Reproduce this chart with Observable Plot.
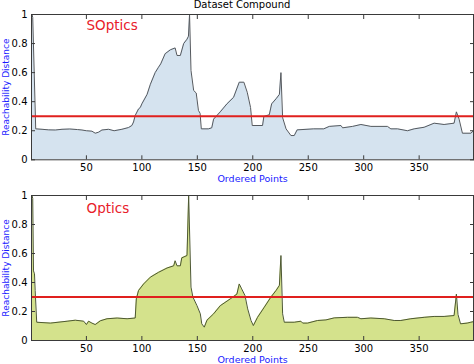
<!DOCTYPE html>
<html><head><meta charset="utf-8">
<script src="https://cdn.jsdelivr.net/npm/d3@7"></script>
<script src="https://cdn.jsdelivr.net/npm/@observablehq/plot@0.6"></script>
<style>
body{margin:0;background:#fff;font-family:"DejaVu Sans",sans-serif;}
#wrap{position:relative;width:474px;height:364px;overflow:hidden;background:#fff;}
#title{position:absolute;left:242px;top:-1px;transform:translateX(-50%);font-size:10px;line-height:12px;white-space:nowrap;color:#000;z-index:5;}
.panel{position:absolute;left:0;}
</style></head>
<body>
<div id="wrap">
  <div id="title">Dataset Compound</div>
  <div id="p1" class="panel" style="top:0px;z-index:2"></div>
  <div id="p2" class="panel" style="top:181px;z-index:1"></div>
</div>
<script>
const chartTitle = "Dataset Compound";
const xLabel = "Ordered Points";
const yLabel = "Reachability Distance";
const threshold = 0.3;
const xTicks = [50, 100, 150, 200, 250, 300, 350];
const yTicks = [0, 0.2, 0.4, 0.6, 0.8, 1];

const soName = "SOptics";
const soX = [1, 1.6, 4.3, 10, 16, 22, 28, 35, 42, 46, 50, 55, 58, 61, 64, 70, 75, 82, 88, 91, 92.5, 94, 97, 98.6, 100, 104.7, 107.7, 112, 115, 117, 121, 125.7, 130, 131.7, 134.7, 137.7, 140.7, 142, 143, 144.3, 146.7, 149, 151, 152.5, 153.6, 160, 163, 164.7, 170.7, 176.7, 182.7, 187.8, 192, 195, 198, 199.5, 208.8, 210, 214.9, 217, 221, 224, 225.4, 226.9, 230, 234.4, 237.4, 240, 255, 264, 269, 279.5, 281, 290, 297.5, 306.5, 321.4, 324.5, 330.5, 339.5, 345.5, 354.5, 363.5, 372.5, 381.5, 383.6, 386, 389, 396.6, 399];
const soY = [1.0, 0.98, 0.213, 0.21, 0.206, 0.205, 0.21, 0.212, 0.208, 0.205, 0.2, 0.197, 0.183, 0.19, 0.205, 0.21, 0.2, 0.21, 0.222, 0.236, 0.26, 0.305, 0.35, 0.36, 0.385, 0.45, 0.52, 0.6, 0.637, 0.66, 0.73, 0.757, 0.77, 0.718, 0.718, 0.8, 0.83, 0.85, 1.0, 0.615, 0.477, 0.46, 0.34, 0.32, 0.213, 0.213, 0.22, 0.28, 0.33, 0.385, 0.43, 0.534, 0.534, 0.465, 0.36, 0.236, 0.236, 0.298, 0.31, 0.385, 0.42, 0.45, 0.6, 0.29, 0.213, 0.167, 0.167, 0.206, 0.213, 0.213, 0.23, 0.236, 0.22, 0.23, 0.243, 0.23, 0.23, 0.213, 0.213, 0.2, 0.213, 0.224, 0.252, 0.243, 0.252, 0.33, 0.28, 0.183, 0.183, 0.2];

const opName = "Optics";
const opX = [1, 1.6, 2.3, 3.2, 3.8, 5.2, 17.6, 32.6, 40, 47.6, 50, 52, 55, 58, 62.6, 68.6, 77.7, 86.7, 94, 95, 97, 101.6, 107.7, 115, 122.7, 128.7, 130, 131.7, 134.7, 136, 140.7, 142.2, 144.3, 146, 149.7, 152.7, 154, 156.3, 158.7, 164.7, 170.7, 179.7, 185.7, 187.8, 190, 193, 195.4, 198.4, 200.5, 204.3, 210.4, 216.4, 221, 224, 225.4, 226.9, 228.4, 237.4, 243.4, 245, 249.4, 258.4, 266, 273.4, 285.4, 294.4, 297.5, 306.5, 318.5, 327.5, 333.5, 342.5, 354.5, 363.5, 372.5, 381.5, 383.6, 385, 387.3, 393.3, 396.6, 399];
const opY = [1.0, 0.98, 0.48, 0.46, 0.345, 0.126, 0.12, 0.133, 0.14, 0.133, 0.11, 0.133, 0.12, 0.11, 0.136, 0.15, 0.155, 0.15, 0.155, 0.287, 0.345, 0.39, 0.437, 0.47, 0.5, 0.515, 0.55, 0.515, 0.515, 0.57, 0.586, 1.0, 0.368, 0.3, 0.24, 0.184, 0.115, 0.092, 0.14, 0.184, 0.24, 0.287, 0.32, 0.39, 0.356, 0.31, 0.218, 0.138, 0.103, 0.16, 0.23, 0.3, 0.345, 0.38, 0.586, 0.184, 0.126, 0.126, 0.133, 0.12, 0.12, 0.138, 0.142, 0.156, 0.16, 0.16, 0.15, 0.155, 0.15, 0.138, 0.138, 0.15, 0.16, 0.166, 0.166, 0.172, 0.32, 0.18, 0.115, 0.12, 0.126, 0.13];

const fmtY = d => String(+d.toFixed(1));

function panel(xs, ys, name, fill, stroke, height, marginBottom, nameDy) {
  const data = xs.map((x, i) => ({x, y: ys[i]}));
  const blank = () => "";
  return Plot.plot({
    width: 474, height,
    marginLeft: 31, marginRight: 1, marginTop: 14, marginBottom,
    style: {fontFamily: "DejaVu Sans, sans-serif", fontSize: "10px", color: "#000", background: "transparent", overflow: "visible"},
    x: {domain: [0.5, 399]},
    y: {domain: [0, 1]},
    marks: [
      Plot.areaY(data, {x: "x", y: "y", fill}),
      Plot.lineY(data, {x: "x", y: "y", stroke, strokeWidth: 1}),
      Plot.ruleY([threshold], {stroke: "#e0201e", strokeWidth: 2}),
      Plot.frame({stroke: "#3a3a3a", strokeWidth: 1}),
      Plot.axisX({ticks: xTicks, anchor: "bottom", tickSize: 0, tickPadding: 4, tickFormat: d => String(d), label: null}),
      Plot.axisY({ticks: yTicks, anchor: "left", tickSize: 0, tickPadding: 4, tickFormat: fmtY, label: null}),
      Plot.axisX({ticks: xTicks, anchor: "bottom", tickSize: 4, dy: -4, tickFormat: blank, label: null, stroke: "#3a3a3a"}),
      Plot.axisX({ticks: xTicks, anchor: "top", tickSize: 4, dy: 4, tickFormat: blank, label: null, stroke: "#3a3a3a"}),
      Plot.axisY({ticks: yTicks, anchor: "left", tickSize: 4, dx: 4, tickFormat: blank, label: null, stroke: "#3a3a3a"}),
      Plot.axisY({ticks: yTicks, anchor: "right", tickSize: 4, dx: -4, tickFormat: blank, label: null, stroke: "#3a3a3a"}),
      Plot.text([name], {frameAnchor: "top-left", dx: 55, dy: nameDy, text: d => d, fill: "#e8202a", fontSize: 13.5, textAnchor: "start", lineAnchor: "bottom"}),
      Plot.text([xLabel], {frameAnchor: "bottom", dy: 22.5, text: d => d, fill: "#1a1aff", fontSize: 9.5, textAnchor: "middle", lineAnchor: "bottom"}),
      Plot.text([yLabel], {frameAnchor: "left", dx: -25.5, rotate: -90, text: d => d, fill: "#1a1aff", fontSize: 9, textAnchor: "middle", lineAnchor: "middle"})
    ]
  });
}

document.getElementById("title").textContent = chartTitle;
document.getElementById("p1").append(panel(soX, soY, soName, "#d5e3ef", "#55595e", 182, 22.7, 15));
document.getElementById("p2").append(panel(opX, opY, opName, "#d4e28c", "#4d5832", 183, 24, 17));
</script>
</body></html>
